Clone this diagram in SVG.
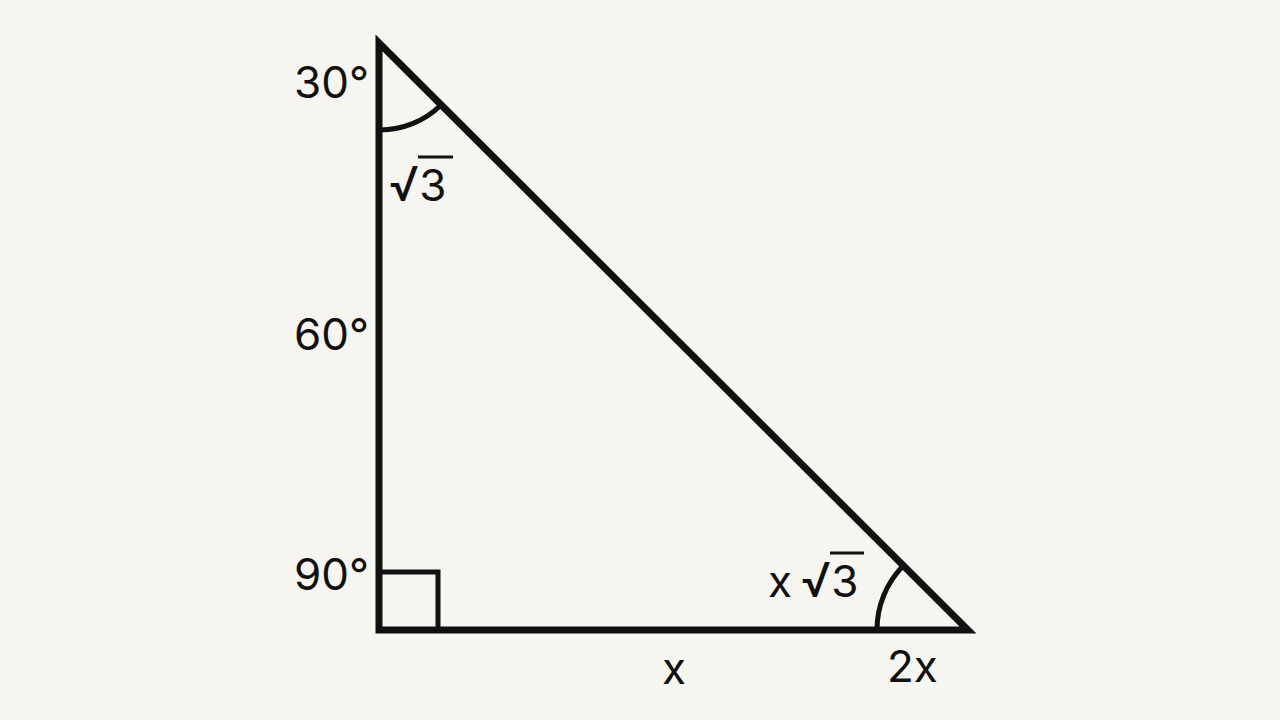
<svg xmlns="http://www.w3.org/2000/svg" width="1280" height="720" viewBox="0 0 1280 720">
<style>
.t{font-family:Inter,"Liberation Sans",Arial,sans-serif;font-size:44px;fill:#111;}
.r{font-size:48px;}
.s{fill:none;stroke:#111;stroke-width:7;stroke-linejoin:miter;}
.a{fill:none;stroke:#111;stroke-width:5;}
.v{stroke:#111;stroke-width:3;}
</style>
<rect width="1280" height="720" fill="#f7f5f0"/>
<g id="triangle">
<path class="s" d="M379 43 L379 630 L968 630 Z"/>
</g>
<g id="marks">
<path class="a" d="M379 130 A87 87 0 0 0 441 105"/>
<path class="a" d="M877 630 A91 91 0 0 1 903 566"/>
<path class="a" d="M379 572 L438 572 L438 630"/>
</g>
<g id="labels">
<text class="t" x="294" y="98">30°</text>
<text class="t" x="294" y="350">60°</text>
<text class="t" x="294" y="590">90°</text>
<text class="t" x="389" y="201"><tspan class="r">√</tspan>3</text>
<line class="v" x1="418" y1="157" x2="453" y2="157"/>
<text class="t" x="768" y="597">x</text>
<text class="t" x="801" y="597"><tspan class="r">√</tspan>3</text>
<line class="v" x1="830" y1="553" x2="864" y2="553"/>
<text class="t" x="662" y="684">x</text>
<text class="t" x="887" y="682">2x</text>
</g>
</svg>
